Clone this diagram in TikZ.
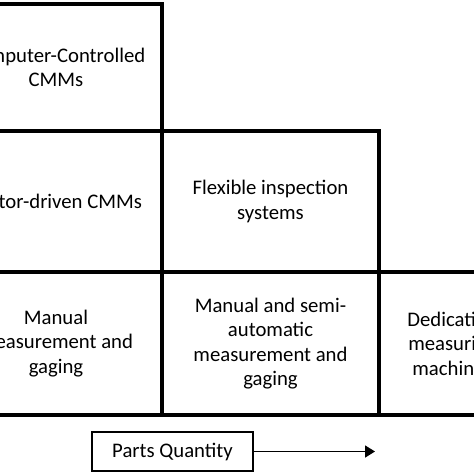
\documentclass[tikz,border=0pt]{standalone}
\usepackage{fontspec}
\setmainfont{Carlito}
\usepackage{tikz}
\usetikzlibrary{arrows.meta}

\begin{document}
\begin{tikzpicture}

  % the picture is a crop of a wider table
  \useasboundingbox (0,0) rectangle (9.48,-9.48);
  \clip (0,0) rectangle (9.48,-9.48);

  \node[anchor=center,inner sep=0mm] (X) at (0,0) {};

  % node styles
  \tikzstyle{Cell}=[
  anchor=center,
  line width=2.2pt,
  font=\fontsize{11.8}{13.9}\selectfont,
  align=center,
  inner sep=1mm,
  shape=rectangle,draw]

  \tikzstyle{Label}=[
  anchor=center,
  line width=0.9pt,
  font=\fontsize{11.8}{13.9}\selectfont,
  shape=rectangle,draw]

  % top row
  \draw (X) node[Cell,minimum width=4.24cm,minimum height=2.54cm] (CC) at +(1.12,-1.35) {Computer-Controlled\\CMMs};

  % middle row
  \draw (X) node[Cell,minimum width=4.24cm,minimum height=2.82cm] (MD) at +(1.12,-4.03) {Motor-driven CMMs};
  \draw (X) node[Cell,minimum width=4.34cm,minimum height=2.82cm] (FI) at +(5.41,-4.03) {Flexible inspection\\systems};

  % bottom row
  \draw (X) node[Cell,minimum width=4.24cm,minimum height=2.86cm] (MM) at +(1.12,-6.87) {Manual\\measurement and\\gaging};
  \draw (X) node[Cell,minimum width=4.34cm,minimum height=2.86cm] (MS) at +(5.41,-6.87) {Manual and semi-\\automatic\\measurement and\\gaging};
  \draw (X) node[Cell,minimum width=2.94cm,minimum height=2.86cm] (DM) at +(9.05,-6.87) {Dedication\\measuring\\machines};

  % axis
  \draw (X) node[Label,minimum width=3.22cm,minimum height=0.78cm] (PQ) at +(3.45,-9.03) {Parts Quantity};
  \coordinate (E) at (7.50,-9.03);
  \draw[line width=0.9pt,-{Triangle[length=2mm,width=2.4mm]}] (PQ.east) -- (E);

\end{tikzpicture}
\end{document}
